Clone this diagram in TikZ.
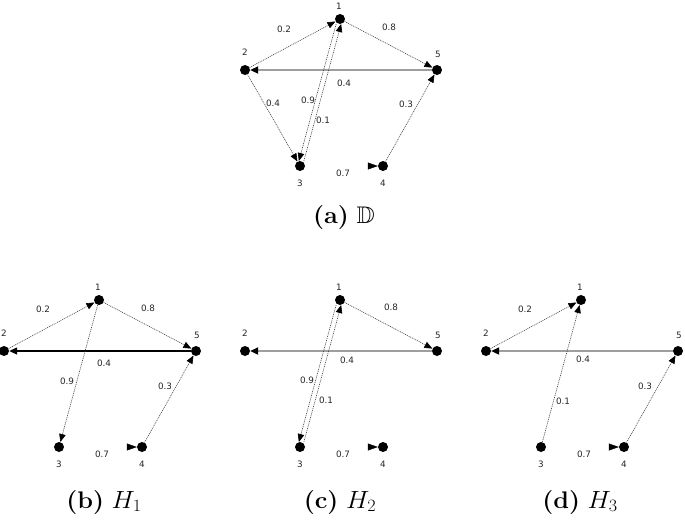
\documentclass[tikz,border=0pt]{standalone}
\usepackage{amssymb}
\usepackage{fontspec}
\newfontfamily\labfont{DejaVu Sans}
\usetikzlibrary{arrows.meta}

\newcommand\gnodes[3]{%
  \begin{scope}[shift={(#2,#3)}]
    \node[dot] (#1-1) at (340,19) {};
    \node[dot] (#1-2) at (245,70) {};
    \node[dot] (#1-5) at (437,70) {};
    \node[dot] (#1-3) at (300,166) {};
    \node[dot] (#1-4) at (383,166) {};
    \node[lab] (#1-l1) at (339,6) {1};
    \node[lab] (#1-l2) at (245,52) {2};
    \node[lab] (#1-l5) at (438,54) {5};
    \node[lab] (#1-l3) at (300,183) {3};
    \node[lab] (#1-l4) at (383,183) {4};
    \node[lab] (#1-e7) at (343,173) {0.7};
    \draw[selfarr] ([xshift=-10pt]#1-4.west) -- (#1-4.west);
  \end{scope}}

\begin{document}
\begin{tikzpicture}[x=1pt,y=-1pt,
  dot/.style={circle,fill=black,inner sep=0pt,minimum size=10pt},
  lab/.style={font=\labfont\fontsize{8.8}{10}\selectfont,text=black!85,inner sep=0pt},
  arr/.style={-{Triangle[length=8pt,width=6.5pt,color=black]},line width=0.6pt,dash pattern=on 1pt off 0.9pt,draw=black!75},
  heavy/.style={-{Triangle[length=8pt,width=7pt,color=black]},line width=2pt,draw=black!38},
  heavyb/.style={-{Triangle[length=8pt,width=7pt,color=black]},line width=1.3pt,draw=black},
  selfarr/.style={-{Triangle[length=10pt,width=7pt]},draw=black},
  capstyle/.style={inner sep=0pt,anchor=base,font=\fontsize{24}{29}\selectfont}]
\useasboundingbox (0,0) rectangle (685,520);

% ---------- (a) ----------
\gnodes{a}{0}{0}
\draw[arr] (a-2) -- (a-1);
\draw[arr] (a-1) -- (a-5);
\draw[heavy] (a-5) -- (a-2);
\draw[arr] (a-2) -- (a-3);
\draw[arr,transform canvas={xshift=-2.5pt}] (a-1) -- (a-3);
\draw[arr,transform canvas={xshift=2.5pt}] (a-3) -- (a-1);
\draw[arr] (a-4) -- (a-5);
\node[lab] (a-e2) at (284,29) {0.2};
\node[lab] (a-e8) at (389,27) {0.8};
\node[lab] (a-e4h) at (344,83) {0.4};
\node[lab] (a-e4) at (273,103) {0.4};
\node[lab] (a-e9) at (308,100) {0.9};
\node[lab] (a-e1) at (323,120) {0.1};
\node[lab] (a-e3) at (406,104) {0.3};

% ---------- (b) ----------
\gnodes{b}{-241}{281}
\draw[arr] (b-2) -- (b-1);
\draw[arr] (b-1) -- (b-5);
\draw[heavyb] (b-5) -- (b-2);
\draw[arr] (b-1) -- (b-3);
\draw[arr] (b-4) -- (b-5);
\begin{scope}[shift={(-241,281)}]
\node[lab] (b-e2) at (284,28) {0.2};
\node[lab] (b-e8) at (389,27) {0.8};
\node[lab] (b-e4h) at (345,82) {0.4};
\node[lab] (b-e9) at (308,100) {0.9};
\node[lab] (b-e3) at (406,105) {0.3};
\end{scope}

% ---------- (c) ----------
\gnodes{c}{0}{281}
\draw[arr] (c-1) -- (c-5);
\draw[heavy] (c-5) -- (c-2);
\draw[arr,transform canvas={xshift=-2.5pt}] (c-1) -- (c-3);
\draw[arr,transform canvas={xshift=2.5pt}] (c-3) -- (c-1);
\begin{scope}[shift={(0,281)}]
\node[lab] (c-e8) at (391,26) {0.8};
\node[lab] (c-e4h) at (347,79) {0.4};
\node[lab] (c-e9) at (307,99) {0.9};
\node[lab] (c-e1) at (326,119) {0.1};
\end{scope}

% ---------- (d) ----------
\gnodes{d}{241}{281}
\draw[arr] (d-2) -- (d-1);
\draw[heavy] (d-5) -- (d-2);
\draw[arr] (d-3) -- (d-1);
\draw[arr] (d-4) -- (d-5);
\begin{scope}[shift={(241,281)}]
\node[lab] (d-e2) at (284,28) {0.2};
\node[lab] (d-e4h) at (342,78) {0.4};
\node[lab] (d-e1) at (322,120) {0.1};
\node[lab] (d-e3) at (404,105) {0.3};
\end{scope}

% ---------- captions ----------
\node[capstyle] (capa) at (344,223) {\scalebox{1.05}[1]{\textbf{(a)} $\mathbb{D}$}};
\node[capstyle] (capb) at (104,508) {\scalebox{1.05}[1]{\textbf{(b)} $H_1$}};
\node[capstyle] (capc) at (340,508) {\scalebox{1.05}[1]{\textbf{(c)} $H_2$}};
\node[capstyle] (capd) at (580,508) {\scalebox{1.05}[1]{\textbf{(d)} $H_3$}};
\end{tikzpicture}
\end{document}
